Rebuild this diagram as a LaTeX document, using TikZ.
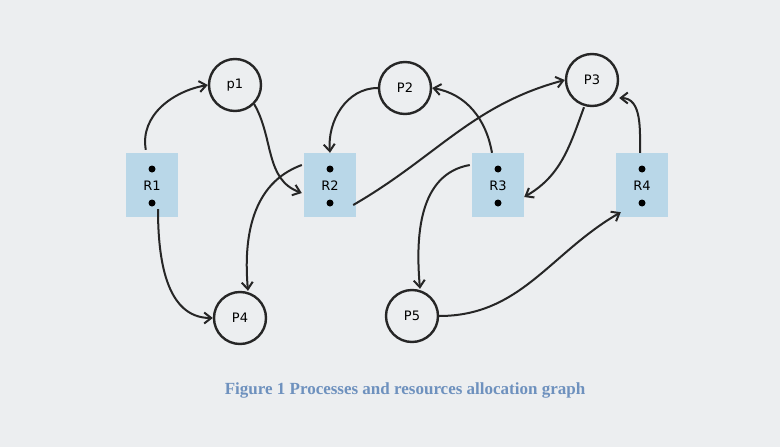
\documentclass[tikz,border=0pt]{standalone}
\usepackage{fontspec}
\setmainfont{Liberation Serif}
\setsansfont{DejaVu Sans}
\usetikzlibrary{arrows.meta}
\definecolor{bg}{RGB}{236,238,240}
\definecolor{res}{RGB}{185,215,232}
\definecolor{cap}{RGB}{110,145,190}
\begin{document}
\begin{tikzpicture}[x=1pt,y=-1pt,
  proc/.style={circle,draw=black!85,line width=2.4pt,minimum size=52pt,inner sep=0pt,font=\sffamily\fontsize{13}{15}\selectfont},
  resbox/.style={fill=res,minimum width=52pt,minimum height=64pt,inner sep=0pt},
  dot/.style={circle,fill=black,minimum size=7pt,inner sep=0pt},
  rlab/.style={font=\sffamily\fontsize{13}{15}\selectfont,inner sep=0pt},
  edge/.style={line width=2pt,black!85,-{Straight Barb[length=7pt,width=11pt]}}]
\fill[bg] (0,0) rectangle (780,447);
\useasboundingbox (0,0) rectangle (780,447);
\node[proc] (p1) at (235,85) {p1};
\node[proc] (p2) at (405,88) {P2};
\node[proc] (p3) at (592,80) {P3};
\node[proc] (p4) at (240,318) {P4};
\node[proc] (p5) at (412,316) {P5};
\foreach \n/\x in {r1/152,r2/330,r3/498,r4/642}{
  \node[resbox] (\n) at (\x,185) {};
  \node[dot] (\n a) at (\x,169) {};
  \node[dot] (\n b) at (\x,203) {};
}
\node[rlab] (l1) at (152,186) {R1};
\node[rlab] (l2) at (330,186) {R2};
\node[rlab] (l3) at (498,186) {R3};
\node[rlab] (l4) at (642,186) {R4};
\draw[edge] (r1.north west) ++(20,-3) coordinate (a1) to[out=100,in=190] (p1.west);
\draw[edge] (p1.south east) to[out=-60,in=160] ([xshift=-2pt,yshift=-8pt]r2.west);
\draw[edge] ([xshift=-3pt,yshift=-20pt]r2.east) to[out=30,in=195] (p3.west);
\draw[edge] ([xshift=-2pt,yshift=20pt]r2.west) to[out=200,in=95] ([xshift=8pt]p4.north);
\draw[edge] ([xshift=6pt,yshift=8pt]r1.south) to[out=-90,in=180] (p4.west);
\draw[edge] (p2.west) to[out=180,in=95] (r2.north);
\draw[edge] ([xshift=-6pt]r3.north) to[out=100,in=-10] (p2.east);
\draw[edge] ([xshift=-8pt]p3.south) to[out=-110,in=30] ([yshift=-12pt]r3.east);
\draw[edge] ([xshift=-2pt]r4.north) to[out=90,in=0] ([yshift=-18pt]p3.east);
\draw[edge] ([xshift=-2pt,yshift=20pt]r3.west) to[out=190,in=95] ([xshift=8pt]p5.north);
\draw[edge] (p5.east) to[out=0,in=210] ([xshift=5pt,yshift=5pt]r4.south west);
\node[font=\bfseries\fontsize{17}{20}\selectfont,text=cap] (c) at (405,390) {Figure 1 Processes and resources allocation graph};
\end{tikzpicture}
\end{document}
